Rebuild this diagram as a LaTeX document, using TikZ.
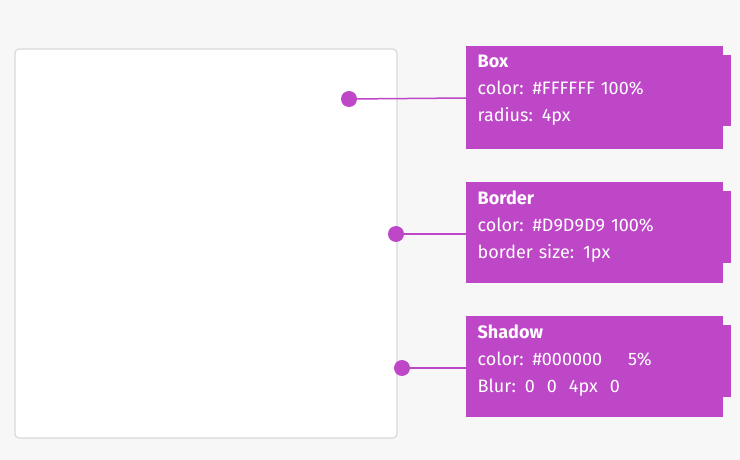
\documentclass[tikz,border=0pt]{standalone}
\usepackage{fontspec}
\setmainfont{Fira Sans}
\definecolor{pur}{HTML}{BE47C8}
\definecolor{bg}{HTML}{F7F7F7}
\definecolor{bd}{HTML}{D9D9D9}
\begin{document}
\begin{tikzpicture}[x=1pt,y=-1pt,
  callout/.style={fill=pur,text=white,anchor=north west,minimum width=257pt,align=left,inner sep=0pt,font=\fontsize{18}{27}\selectfont},
  dot/.style={circle,fill=pur,inner sep=0pt,minimum size=16pt},
  conn/.style={pur,line width=1.5pt}]
\fill[bg] (0,0) rectangle (740,460);
\useasboundingbox (0,0) rectangle (740,460);
\draw[bd,fill=white,rounded corners=4pt,line width=1.2pt] (15,49) rectangle (397,438);
\fill[pur] (466,46) rectangle (723,149);
\fill[pur] (466,182) rectangle (723,283);
\fill[pur] (466,316) rectangle (723,417);
\node[callout,text width=250pt] (c1) at (474,55) {\textbf{Box}\\color: \#FFFFFF 100\%\\radius: 4px};
\node[callout,text width=250pt] (c2) at (474,191) {\textbf{Border}\\color: \#D9D9D9 100\%\\border size: 1px};
\node[callout,text width=250pt] (c3) at (474,325) {\textbf{Shadow}\\color: \#000000\hspace{26pt}5\%\\Blur: 0\ \ 0\ \ 4px\ \ 0};
\node[dot] (d1) at (349,99) {};
\node[dot] (d2) at (396,234) {};
\node[dot] (d3) at (402,368) {};
\coordinate (e1) at (466,98);
\coordinate (e2) at (466,234);
\coordinate (e3) at (466,368);
\draw[conn] (d1) -- (e1);
\draw[conn] (d2) -- (e2);
\draw[conn] (d3) -- (e3);
\end{tikzpicture}
\end{document}
